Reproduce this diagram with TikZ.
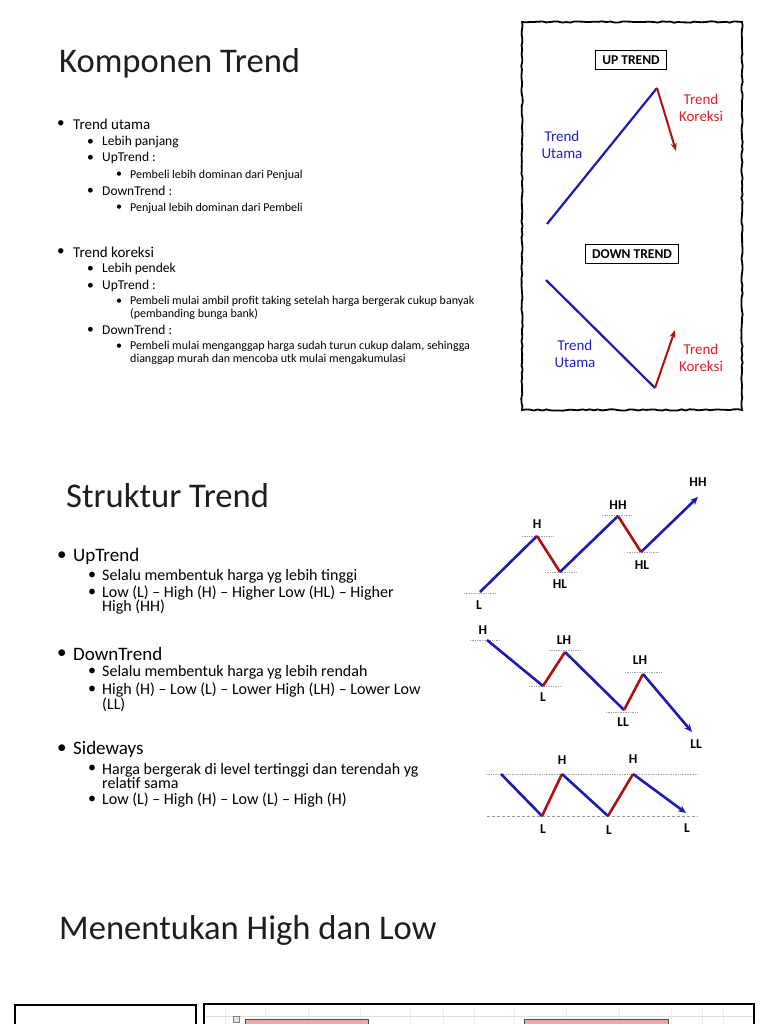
\documentclass[tikz,border=0pt]{standalone}
\usepackage{fontspec}
\setmainfont{Carlito}
\usetikzlibrary{arrows.meta,decorations.pathmorphing}
\definecolor{ttl}{HTML}{1E1E1E}
\definecolor{cblue}{HTML}{1C1CB0}
\definecolor{cred}{HTML}{B01010}
\definecolor{tred}{HTML}{E0202A}
\definecolor{tblue}{HTML}{2020C0}
\definecolor{pinkf}{HTML}{F2A8A8}
\newcommand\fsz[2]{\fontsize{#1}{#2}\selectfont}
\tikzset{
  ttlstyle/.style={anchor=west,inner sep=0,text=ttl,font=\fsz{34.6}{36}},
  lone/.style={anchor=west,inner sep=0,font=\fsz{15}{16}},
  ltwo/.style={anchor=west,inner sep=0,font=\fsz{13.5}{14}},
  lthree/.style={anchor=west,inner sep=0,font=\fsz{12}{12.5},align=left},
  sone/.style={anchor=west,inner sep=0,font=\fsz{19}{20}},
  stwo/.style={anchor=west,inner sep=0,font=\fsz{16}{14.5},align=left},
  hdbox/.style={draw,line width=1pt,inner xsep=6.5pt,inner ysep=5pt,font=\bfseries\fsz{13.5}{14}},
  boxtxt/.style={align=center,font=\fsz{15}{17},inner sep=0},
  mainline/.style={cblue,line width=2.2pt},
  corline/.style={cred,line width=2pt},
  chartb/.style={cblue,line width=2.6pt},
  chartr/.style={cred,line width=2.6pt},
  tip/.style={-{Stealth[length=8pt,width=7pt]}},
  dots/.style={gray!70,densely dotted,line width=0.7pt},
  plab/.style={font=\bfseries\fsz{13.5}{14},inner sep=0},
}
\begin{document}
\begin{tikzpicture}[x=1pt,y=-1pt]
\useasboundingbox (0,0) rectangle (768,1024);
\fill[white] (0,0) rectangle (768,1024);

% ---------- Komponen Trend ----------
\node[ttlstyle] (t1) at (59,63) {Komponen Trend};

\node[lone] (b1) at (57,124) {•};  \node[lone] (a1) at (73,124) {Trend utama};
\node[ltwo] (b2) at (87,142) {•};  \node[ltwo] (a2) at (102,142) {Lebih panjang};
\node[ltwo] (b3) at (87,158) {•};  \node[ltwo] (a3) at (102,158) {UpTrend :};
\node[lthree] (b4) at (116,175) {•}; \node[lthree] (a4) at (130,175) {Pembeli lebih dominan dari Penjual};
\node[ltwo] (b5) at (87,191) {•};  \node[ltwo] (a5) at (102,191) {DownTrend :};
\node[lthree] (b6) at (116,208) {•}; \node[lthree] (a6) at (130,208) {Penjual lebih dominan dari Pembeli};

\node[lone] (b7) at (57,252) {•};  \node[lone] (a7) at (73,252) {Trend koreksi};
\node[ltwo] (b8) at (87,269) {•};  \node[ltwo] (a8) at (102,269) {Lebih pendek};
\node[ltwo] (b9) at (87,286) {•};  \node[ltwo] (a9) at (102,286) {UpTrend :};
\node[lthree] (b10) at (116,302) {•};
\node[lthree] (a10) at (130,308) {Pembeli mulai ambil profit taking setelah harga bergerak cukup banyak\\(pembanding bunga bank)};
\node[ltwo] (b11) at (87,330) {•}; \node[ltwo] (a11) at (102,330) {DownTrend :};
\node[lthree] (b12) at (116,347) {•};
\node[lthree] (a12) at (130,353) {Pembeli mulai menganggap harga sudah turun cukup dalam, sehingga\\dianggap murah dan mencoba utk mulai mengakumulasi};

% ---------- hand-drawn box ----------
\draw[line width=1.8pt,decorate,decoration={random steps,segment length=4pt,amplitude=0.7pt}]
  (522,22) -- (742,22) -- (742,410) -- (522,410) -- cycle;
\node[hdbox] (up) at (631,60) {UP TREND};
\coordinate (u0) at (547,224);
\coordinate (u1) at (657,88);
\coordinate (u2) at (676,151);
\draw[mainline] (u0) -- (u1);
\draw[corline,-{Stealth[length=8pt,width=6pt]}] (u1) -- (u2);
\node[boxtxt,text=tblue] (ut) at (562,145) {Trend\\Utama};
\node[boxtxt,text=tred] (uk) at (701,108) {Trend\\Koreksi};

\node[hdbox] (dn) at (632,254) {DOWN TREND};
\coordinate (d0) at (546,280);
\coordinate (d1) at (655,388);
\coordinate (d2) at (675,330);
\draw[mainline] (d0) -- (d1);
\draw[corline,-{Stealth[length=8pt,width=6pt]}] (d1) -- (d2);
\node[boxtxt,text=tblue] (dt) at (575,354) {Trend\\Utama};
\node[boxtxt,text=tred] (dk) at (701,358) {Trend\\Koreksi};

% ---------- Struktur Trend ----------
\node[ttlstyle] (t2) at (66,496) {Struktur Trend};

\node[sone] (s1b) at (57,556) {•}; \node[sone] (s1) at (73,556) {UpTrend};
\node[stwo] (s2b) at (88,576) {•}; \node[stwo] (s2) at (102,576) {Selalu membentuk harga yg lebih tinggi};
\node[stwo] (s3b) at (88,593) {•};
\node[stwo] (s3) at (102,600) {Low (L) -- High (H) -- Higher Low (HL) -- Higher\\High (HH)};

\node[sone] (s4b) at (57,654) {•}; \node[sone] (s4) at (73,654) {DownTrend};
\node[stwo] (s5b) at (88,672) {•}; \node[stwo] (s5) at (102,672) {Selalu membentuk harga yg lebih rendah};
\node[stwo] (s6b) at (88,690) {•};
\node[stwo] (s6) at (102,697) {High (H) -- Low (L) -- Lower High (LH) -- Lower Low\\(LL)};

\node[sone] (s7b) at (57,749) {•}; \node[sone] (s7) at (73,749) {Sideways};
\node[stwo] (s8b) at (88,769) {•};
\node[stwo] (s8) at (102,776) {Harga bergerak di level tertinggi dan terendah yg\\relatif sama};
\node[stwo] (s9b) at (88,800) {•}; \node[stwo] (s9) at (102,800) {Low (L) -- High (H) -- Low (L) -- High (H)};

% uptrend chart
\coordinate (p0) at (480,592);
\coordinate (p1) at (537,536);
\coordinate (p2) at (560,572);
\coordinate (p3) at (618,516);
\coordinate (p4) at (641,552);
\coordinate (p5) at (698,497);
\draw[dots] (464,593) -- (495,593);
\draw[dots] (522,536) -- (553,536);
\draw[dots] (545,572) -- (576,572);
\draw[dots] (602,515) -- (632,515);
\draw[dots] (627,552) -- (659,552);
\draw[chartb] (p0) -- (p1);
\draw[chartr] (p1) -- (p2);
\draw[chartb] (p2) -- (p3);
\draw[chartr] (p3) -- (p4);
\draw[chartb,tip] (p4) -- (p5);
\node[plab] (l0) at (479,605) {L};
\node[plab] (l1) at (537,524) {H};
\node[plab] (l2) at (560,584) {HL};
\node[plab] (l3) at (618,505) {HH};
\node[plab] (l4) at (642,565) {HL};
\node[plab] (l5) at (698,482) {HH};

% downtrend chart
\coordinate (q0) at (487,640);
\coordinate (q1) at (543,686);
\coordinate (q2) at (565,652);
\coordinate (q3) at (624,710);
\coordinate (q4) at (643,674);
\coordinate (q5) at (692,732);
\draw[dots] (470,640) -- (500,640);
\draw[dots] (529,686) -- (560,686);
\draw[dots] (549,650) -- (580,650);
\draw[dots] (606,712) -- (637,712);
\draw[dots] (625,672) -- (661,672);
\draw[chartb] (q0) -- (q1);
\draw[chartr] (q1) -- (q2);
\draw[chartb] (q2) -- (q3);
\draw[chartr] (q3) -- (q4);
\draw[chartb,tip] (q4) -- (q5);
\node[plab] (m0) at (483,630) {H};
\node[plab] (m1) at (543,697) {L};
\node[plab] (m2) at (564,640) {LH};
\node[plab] (m3) at (623,722) {LL};
\node[plab] (m4) at (640,660) {LH};
\node[plab] (m5) at (696,744) {LL};

% sideways chart
\draw[dots] (486,774) -- (698,774);
\draw[dots,densely dashed,gray!80] (487,816) -- (698,816);
\coordinate (r0) at (501,774);
\coordinate (r1) at (542,816);
\coordinate (r2) at (562,774);
\coordinate (r3) at (608,816);
\coordinate (r4) at (633,774);
\coordinate (r5) at (686,813);
\draw[chartb] (r0) -- (r1);
\draw[chartr] (r1) -- (r2);
\draw[chartb] (r2) -- (r3);
\draw[chartr] (r3) -- (r4);
\draw[chartb,tip] (r4) -- (r5);
\node[plab] (n1) at (562,760) {H};
\node[plab] (n2) at (633,759) {H};
\node[plab] (n3) at (543,829) {L};
\node[plab] (n4) at (609,830) {L};
\node[plab] (n5) at (687,828) {L};

% ---------- Menentukan High dan Low ----------
\node[ttlstyle] (t3) at (59,930) {Menentukan High dan Low};

\draw[line width=2.2pt] (15,1030) -- (15,1005) -- (196,1005) -- (196,1030);
\foreach \gx in {225,265,308,360,410,443,474,514,566,619,671,702,723}
  \draw[gray!15,line width=0.5pt] (\gx,1007) -- (\gx,1026);
\draw[gray!25,line width=0.5pt] (206,1016) -- (753,1016);
\draw[line width=2.2pt] (204,1030) -- (204,1004) -- (754,1004) -- (754,1030);
\draw[gray,fill=gray!20,line width=0.4pt] (233,1016) rectangle (239,1022);
\draw[fill=pinkf,draw=black!70,line width=0.6pt] (245,1019) rectangle (368,1030);
\draw[fill=pinkf,draw=black!70,line width=0.6pt] (524,1019) rectangle (668,1030);
\end{tikzpicture}
\end{document}
